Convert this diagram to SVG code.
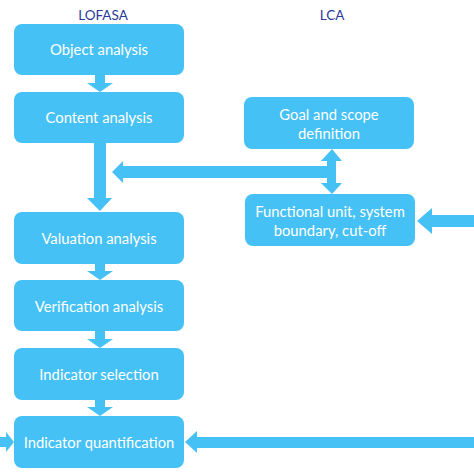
<svg xmlns="http://www.w3.org/2000/svg" width="474" height="474" viewBox="0 0 474 474">
<style>
.box{fill:#46c1f6;}
.t{font-family:Lato,"Open Sans",sans-serif;font-size:14.8px;fill:#ffffff;text-anchor:middle;}
.h{font-family:Lato,"Open Sans",sans-serif;font-size:13.5px;fill:#2b3a9c;text-anchor:middle;}
.a{fill:#46c1f6;}
</style>
<rect width="474" height="474" fill="#ffffff"/>
<text class="h" x="103" y="20">LOFASA</text>
<text class="h" x="332" y="20">LCA</text>
<g id="connectors">
<polygon class="a" points="95,75 105,75 105,83 113,83 100,92 87,83 95,83"/>
<polygon class="a" points="94,143 106,143 106,198 112,198 100,211 87,198 94,198"/>
<polygon class="a" points="95,264 105,264 105,271 113,271 100,280 87,271 95,271"/>
<polygon class="a" points="95,331 105,331 105,339 113,339 100,348 87,339 95,339"/>
<polygon class="a" points="95,400 105,400 105,407 113,407 100,416 87,407 95,407"/>
<polygon class="a" points="112,172 123,161 123,166 327,166 327,178 123,178 123,183"/>
<polygon class="a" points="332,149 342,161 336,161 336,183 342,183 332,194 321,183 327,183 327,161 321,161"/>
<polygon class="a" points="417,221 432,208 432,215 474,215 474,227 432,227 432,234"/>
<polygon class="a" points="14,442 6,432 6,437 0,437 0,447 6,447 6,452"/>
<polygon class="a" points="185,442 197,431 197,437 474,437 474,448 197,448 197,453"/>
</g>
<g id="object"><rect class="box" x="14" y="24" width="170" height="51" rx="8"/><text class="t" x="99" y="55">Object analysis</text></g>
<g id="content"><rect class="box" x="14" y="92" width="170" height="51" rx="8"/><text class="t" x="99" y="123">Content analysis</text></g>
<g id="valuation"><rect class="box" x="14" y="212" width="170" height="52" rx="8"/><text class="t" x="99" y="244">Valuation analysis</text></g>
<g id="verification"><rect class="box" x="14" y="280" width="170" height="51" rx="8"/><text class="t" x="99" y="312">Verification analysis</text></g>
<g id="selection"><rect class="box" x="14" y="348" width="170" height="52" rx="8"/><text class="t" x="99" y="380">Indicator selection</text></g>
<g id="quantification"><rect class="box" x="14" y="416" width="170" height="52" rx="8"/><text class="t" x="99" y="448">Indicator quantification</text></g>
<g id="goal"><rect class="box" x="244" y="97" width="170" height="52" rx="8"/><text class="t" x="329" y="120">Goal and scope</text><text class="t" x="329" y="139">definition</text></g>
<g id="functional"><rect class="box" x="245" y="194" width="170" height="52" rx="8"/><text class="t" x="330" y="217">Functional unit, system</text><text class="t" x="330" y="236">boundary, cut-off</text></g>
</svg>
